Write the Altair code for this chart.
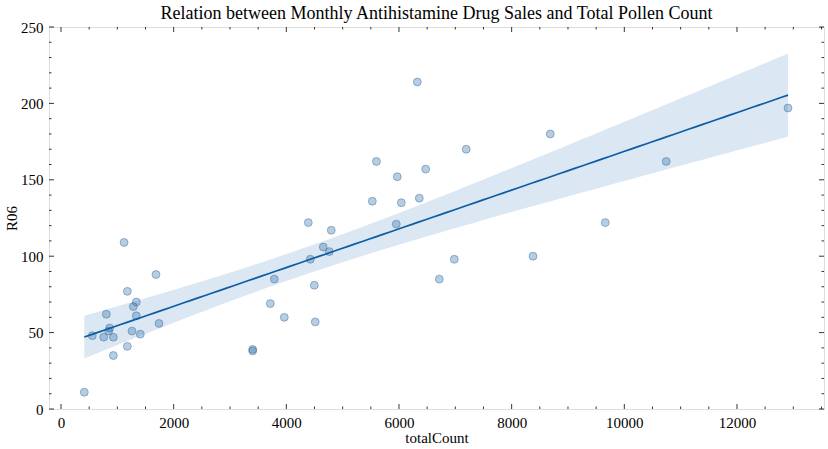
import altair as alt
import numpy as np
import pandas as pd

# Monthly total pollen count and R06 (antihistamine) sales
total_count = [414, 556, 758, 805, 864, 846, 929, 929, 1120, 1178, 1178, 1260,
               1284, 1337, 1337, 1408, 1686, 1740, 3403, 3403, 3716, 3787, 3964,
               4390, 4426, 4497, 4514, 4656, 4763, 4798, 5527, 5600, 5970, 5952,
               6041, 6326, 6361, 6474, 6716, 6982, 7194, 8380, 8686, 9662, 10745,
               12906]
r06 = [11, 48, 47, 62, 53, 51, 47, 35, 109, 77, 41, 51,
       67, 70, 61, 49, 88, 56, 38, 39, 69, 85, 60,
       122, 98, 81, 57, 106, 103, 117, 136, 162, 152, 121,
       135, 214, 138, 157, 85, 98, 170, 100, 180, 122, 162,
       197]

x_ticks_major = [0, 2000, 4000, 6000, 8000, 10000, 12000]
x_ticks_minor = [v for v in range(500, 13600, 500) if v % 2000 != 0]
y_ticks_major = [0, 50, 100, 150, 200, 250]
y_ticks_minor = [v for v in range(10, 250, 10) if v % 50 != 0]

BLUE = "#0C5DA5"
W, H = 775, 382
FONT = "Liberation Serif"

df = pd.DataFrame({"totalCount": total_count, "R06": r06})

# OLS fit with a 95% confidence band for the mean
x = np.array(total_count, dtype=float)
y = np.array(r06, dtype=float)
n = len(x)
slope, intercept = np.polyfit(x, y, 1)
resid = y - (intercept + slope * x)
s = np.sqrt(np.sum(resid ** 2) / (n - 2))
sxx = np.sum((x - x.mean()) ** 2)
grid = np.linspace(x.min(), x.max(), 100)
fit = intercept + slope * grid
half = 2.015 * s * np.sqrt(1.0 / n + (grid - x.mean()) ** 2 / sxx)
band = pd.DataFrame({"totalCount": grid, "fit": fit, "lo": fit - half, "hi": fit + half})

xscale = alt.Scale(domain=[-213, 13545], nice=False, zero=False)
yscale = alt.Scale(domain=[0, 250], nice=False)

xaxis = alt.Axis(values=x_ticks_major, format="d", ticks=False, domain=False, grid=False,
                 labelPadding=6, labelFont=FONT, labelFontSize=15, labelColor="black",
                 title="totalCount", titleFont=FONT, titleFontSize=15,
                 titleFontWeight="normal", titleColor="black", titlePadding=0)
yaxis = alt.Axis(values=y_ticks_major, format="d", ticks=False, domain=False, grid=False,
                 labelPadding=6, labelFont=FONT, labelFontSize=15, labelColor="black",
                 title="R06", titleFont=FONT, titleFontSize=15,
                 titleFontWeight="normal", titleColor="black", titlePadding=1)

band_layer = alt.Chart(band).mark_area(color=BLUE, opacity=0.15).encode(
    x=alt.X("totalCount:Q", scale=xscale, axis=xaxis),
    y=alt.Y("lo:Q", scale=yscale, axis=yaxis),
    y2="hi:Q",
)

points = alt.Chart(df).mark_point(
    shape="circle", filled=True, size=62, color=BLUE, fillOpacity=0.3,
    stroke="#4a6f96", strokeOpacity=0.5, strokeWidth=1,
).encode(
    x=alt.X("totalCount:Q", scale=xscale),
    y=alt.Y("R06:Q", scale=yscale),
)

line = alt.Chart(band).mark_line(color=BLUE, strokeWidth=1.7).encode(
    x=alt.X("totalCount:Q", scale=xscale),
    y=alt.Y("fit:Q", scale=yscale),
)


def xticks(values, length):
    d = pd.DataFrame({"v": values})
    bottom = alt.Chart(d).mark_rule(color="black", strokeWidth=0.8).encode(
        x=alt.X("v:Q", scale=xscale), y=alt.value(H), y2=alt.value(H - length))
    top = alt.Chart(d).mark_rule(color="black", strokeWidth=0.8).encode(
        x=alt.X("v:Q", scale=xscale), y=alt.value(0), y2=alt.value(length))
    return [bottom, top]


def yticks(values, length):
    d = pd.DataFrame({"v": values})
    left = alt.Chart(d).mark_rule(color="black", strokeWidth=0.8).encode(
        y=alt.Y("v:Q", scale=yscale), x=alt.value(0), x2=alt.value(length))
    right = alt.Chart(d).mark_rule(color="black", strokeWidth=0.8).encode(
        y=alt.Y("v:Q", scale=yscale), x=alt.value(W), x2=alt.value(W - length))
    return [left, right]


tick_layers = (xticks(x_ticks_major, 5) + xticks(x_ticks_minor, 2.5)
               + yticks(y_ticks_major, 5) + yticks(y_ticks_minor, 2.5))

chart = alt.layer(band_layer, points, line, *tick_layers).properties(
    width=W, height=H,
    title=alt.TitleParams(
        "Relation between Monthly Antihistamine Drug Sales and Total Pollen Count",
        font=FONT, fontSize=18, fontWeight="normal", color="black",
        anchor="middle", offset=-3),
    autosize=alt.AutoSizeParams(type="none"),
    padding={"left": 49, "top": 27, "right": 4, "bottom": 40},
).configure_view(stroke="#222222", strokeWidth=1.2).configure(background="white")

chart.save("out.html", embed_options={"renderer": "svg", "actions": False})
